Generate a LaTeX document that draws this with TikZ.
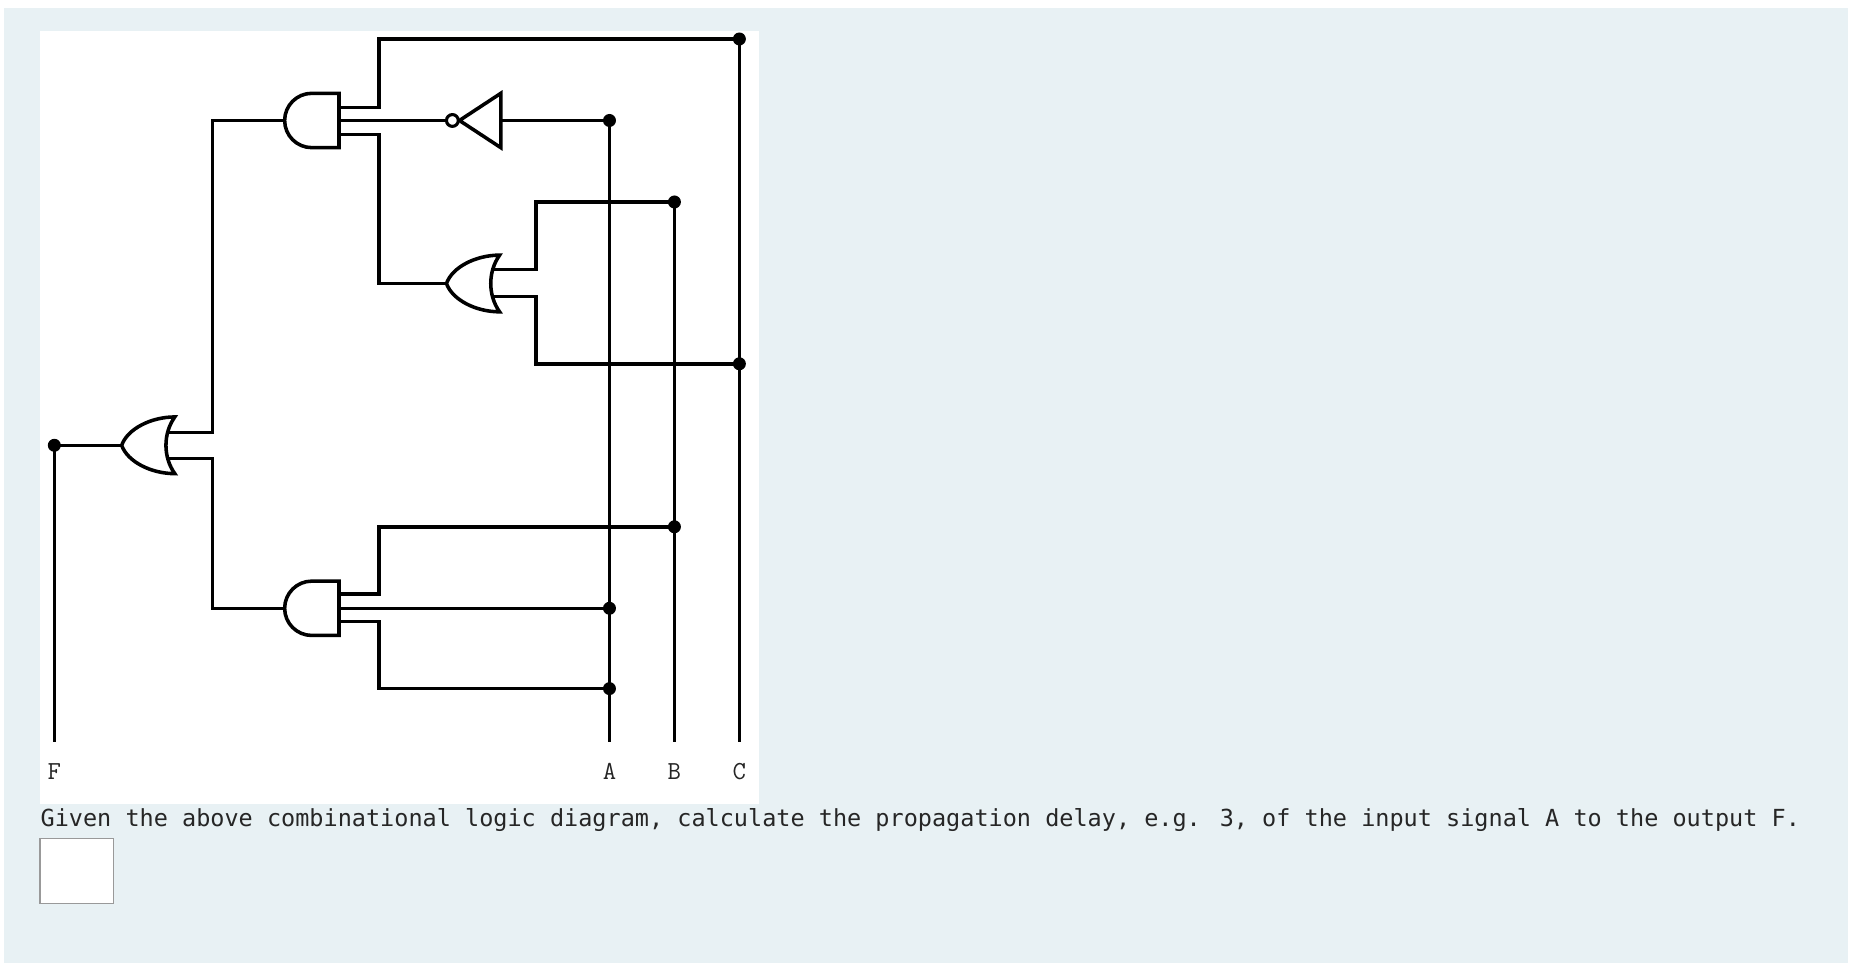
\documentclass[tikz,border=0pt]{standalone}
\usepackage{fontspec}
\newfontfamily\qfont{DejaVu Sans Mono}
\begin{document}
\begin{tikzpicture}[x=0.5pt,y=-0.5pt,
  wire/.style={line width=1.5pt},
  gate/.style={line width=1.5pt,fill=white},
  dot/.style={circle,fill=black,inner sep=0pt,minimum size=5.5pt},
  lbl/.style={font=\ttfamily\fontsize{11}{12}\selectfont,text=black!85}]
\definecolor{bg}{HTML}{E8F1F4}
\useasboundingbox (0,0) rectangle (1568,820);
\fill[bg] (3,7) rectangle (1565,815);
\fill[white] (34,26) rectangle (643,681);
% input rails
\coordinate (Ctop) at (626,33); \coordinate (Cbot) at (626,628);
\coordinate (Btop) at (571,171); \coordinate (Bbot) at (571,628);
\coordinate (Atop) at (516,102); \coordinate (Abot) at (516,628);
\coordinate (Fout) at (46,377); \coordinate (Fbot) at (46,628);
\draw[wire] (Ctop) -- (Cbot);
\draw[wire] (Btop) -- (Bbot);
\draw[wire] (Atop) -- (Abot);
\draw[wire] (Fout) -- (Fbot);
% wires
\draw[wire] (Ctop) -- (321,33) -- (321,91) -- (287,91);
\draw[wire] (Atop) -- (424,102);
\draw[wire] (378,102) -- (287,102);
\draw[wire] (287,114) -- (321,114) -- (321,240) -- (378,240);
\draw[wire] (Btop) -- (454,171) -- (454,228) -- (418,228);
\coordinate (Cmid) at (626,308);
\draw[wire] (Cmid) -- (454,308) -- (454,251) -- (418,251);
\draw[wire] (241,102) -- (180,102) -- (180,366) -- (143,366);
\draw[wire] (241,515) -- (180,515) -- (180,388) -- (143,388);
\draw[wire] (103,377) -- (Fout);
\coordinate (Bmid) at (571,446);
\coordinate (Amid) at (516,515);
\coordinate (Alow) at (516,583);
\draw[wire] (Bmid) -- (321,446) -- (321,503) -- (287,503);
\draw[wire] (Amid) -- (287,515);
\draw[wire] (Alow) -- (321,583) -- (321,526) -- (287,526);
% AND gates
\foreach \cy in {102,515}{
  \draw[gate] (287,\cy-23) -- (264,\cy-23) arc[start angle=90,end angle=270,x radius=23,y radius=-23] -- (287,\cy+23) -- cycle;
}
% OR gates
\foreach \tx/\cy in {378/240,103/377}{
  \draw[gate] (\tx+45,\cy-24) .. controls (\tx+35,\cy-10) and (\tx+35,\cy+10) .. (\tx+45,\cy+24)
     .. controls (\tx+25,\cy+24) and (\tx+5,\cy+14) .. (\tx,\cy)
     .. controls (\tx+5,\cy-14) and (\tx+25,\cy-24) .. cycle;
}
% NOT gate
\draw[gate] (424,79) -- (424,125) -- (389,102) -- cycle;
\draw[line width=1.3pt,fill=white] (383,102) circle[radius=5];
% dots
\foreach \p in {Ctop,Btop,Atop,Fout,Cmid,Bmid,Amid,Alow} \node[dot] at (\p) {};
% labels
\node[lbl] (lF) at (46,653) {F};
\node[lbl] (lA) at (516,653) {A};
\node[lbl] (lB) at (571,653) {B};
\node[lbl] (lC) at (626,653) {C};
\node[anchor=west,inner sep=0pt,font=\qfont\fontsize{9.95}{12}\selectfont,text=black!85] (q) at (34,694)
  {Given the above combinational logic diagram, calculate the propagation delay, e.g. 3, of the input signal A to the output F.};
\draw[fill=white,draw=gray!80,line width=0.6pt] (34,710) rectangle (96,765);
\end{tikzpicture}
\end{document}
